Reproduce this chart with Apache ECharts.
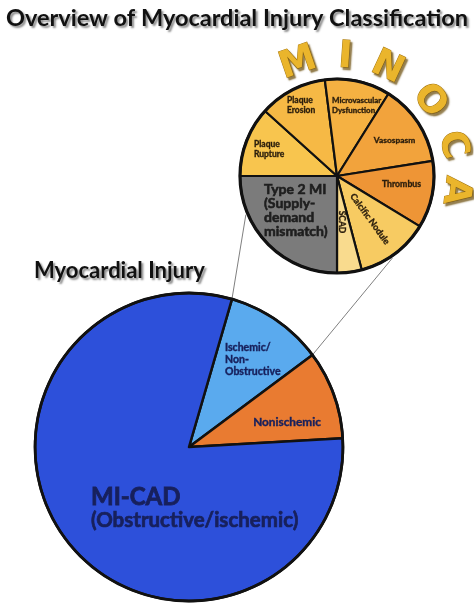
<!DOCTYPE html>
<html><head><meta charset="utf-8">
<script src="https://cdn.jsdelivr.net/npm/echarts@6/dist/echarts.min.js"></script>
<style>html,body{margin:0;padding:0;background:#fff}#c{width:474px;height:608px}</style>
</head><body><div id="c"></div>
<script>
// ---- data ----
const injuryNames = ['Ischemic/\nNon-\nObstructive', 'Nonischemic', 'MI-CAD\n(Obstructive/ischemic)'];
const injuryValues = [10.3, 9.3, 80.4];
const minocaNames = ['Plaque\nRupture', 'Plaque\nErosion', 'Microvascular\nDysfunction', 'Vasospasm', 'Thrombus', 'Calcific Nodule', 'SCAD', 'Type 2 MI\n(Supply-\ndemand\nmismatch)'];
const minocaValues = [11.7, 11.3, 10.9, 13.6, 11.2, 12.2, 4.1, 25.0];
const minocaLetters = ['M', 'I', 'N', 'O', 'C', 'A'];
const titleText = 'Overview of Myocardial Injury Classification';
const subTitleText = 'Myocardial Injury';

// ---- styles / layout ----
const injuryColors = ['#5AAAEE', '#E97B31', '#2D50DA'];
const minocaColors = ['#F8C54E', '#F6B945', '#F5B142', '#F2A33C', '#EE9536', '#F7CB62', '#F9DB8E', '#7B7B7B'];
const bigC = [189, 447], bigR = 154;
const smC = [337, 176], smR = 97;
const injuryLabelPos = [
  {x: 225, y: 360, align: 'left'},
  {x: 287, y: 422, align: 'center'},
  {x: 91, y: 508, align: 'left'}
];
const injuryLabelSize = [10.5, 11.8, 0];
const minocaLabelPos = [
  {x: 254, y: 149, align: 'left', rotate: 0},
  {x: 287, y: 105.5, align: 'left', rotate: 0},
  {x: 332, y: 105, align: 'left', rotate: 0},
  {x: 394.5, y: 140, align: 'center', rotate: 0},
  {x: 401.5, y: 184, align: 'center', rotate: 0},
  {x: 370, y: 219, align: 'center', rotate: -54},
  {x: 342, y: 222, align: 'center', rotate: -90},
  {x: 264, y: 210, align: 'left', rotate: 0}
];
const minocaLabelSize = [8.5, 8.5, 7.9, 8.4, 8.7, 9, 8.5, 0];
const letterAngles = [-19, 4, 25, 51, 75, 97];
const letterR = 119;

const chart = echarts.init(document.getElementById('c'));

function rad(d){return d*Math.PI/180;}
function pt(c, r, a){return [c[0] + r*Math.sin(rad(a)), c[1] - r*Math.cos(rad(a))];}

const bigStartCW = 16.2;
const totalBig = injuryValues.reduce((a,b)=>a+b,0);
const bA1 = bigStartCW;
const bA2 = bigStartCW + injuryValues[0]/totalBig*360;
const p1 = pt(bigC, bigR, bA1);
const p2 = pt(bigC, bigR, bA2);
const q1 = pt(smC, smR+2, 247);
const q2 = pt(smC, smR+2, 146);

const graphics = [
  {type:'line', z: 0, shape:{x1:p1[0], y1:p1[1], x2:q1[0], y2:q1[1]}, style:{stroke:'#808080', lineWidth:1}},
  {type:'line', z: 0, shape:{x1:p2[0], y1:p2[1], x2:q2[0], y2:q2[1]}, style:{stroke:'#808080', lineWidth:1}},
  {type:'circle', z: 5, silent: true, shape:{cx: smC[0], cy: smC[1], r: smR}, style:{fill: null, stroke:'#111', lineWidth: 3.2}},
  {type:'circle', z: 5, silent: true, shape:{cx: bigC[0], cy: bigC[1], r: bigR}, style:{fill: null, stroke:'#111', lineWidth: 2.8}}
];
minocaLetters.forEach((L, i) => {
  const p = pt(smC, letterR, letterAngles[i]);
  graphics.push({
    type: 'text', x: p[0], y: p[1], rotation: -rad(letterAngles[i]), z: 10,
    style: {text: L, fill: '#EAB52C', font: 'bold 37px "DejaVu Sans"', align: 'center', verticalAlign: 'middle',
      stroke: '#A8780E', lineWidth: 1,
      textShadowColor: 'rgba(110,80,15,0.75)', textShadowOffsetX: 2, textShadowOffsetY: 2.5, textShadowBlur: 1.5}
  });
});

const option = {
  backgroundColor: '#ffffff',
  animation: false,
  title: [
    {text: titleText, left: 'center', top: 1,
      textStyle: {fontFamily: 'Lato', fontWeight: 'bold', fontSize: 23.5, color: '#111',
        textShadowColor: 'rgba(0,0,0,0.45)', textShadowOffsetX: 2, textShadowOffsetY: 2, textShadowBlur: 2}},
    {text: subTitleText, left: 29, top: 255,
      textStyle: {fontFamily: 'Lato', fontWeight: 'bold', fontSize: 22, color: '#111',
        textShadowColor: 'rgba(0,0,0,0.45)', textShadowOffsetX: 2, textShadowOffsetY: 2, textShadowBlur: 2}}
  ],
  graphic: graphics,
  series: [
    {
      type: 'pie', center: bigC, radius: bigR, startAngle: 90 - bigStartCW, clockwise: true,
      label: {show: true, position: 'inside', fontFamily: 'Lato', fontWeight: 'bold', color: '#17205C',
        fontSize: 10.5, lineHeight: 12, textBorderColor: '#17205C', textBorderWidth: 0.4,
        formatter: p => p.dataIndex === 2 ? '{a|MI-CAD}\n{b|(Obstructive/ischemic)}' : p.name,
        rich: {a: {fontSize: 24, fontWeight: 'bold', fontFamily: 'Lato', color: '#17205C', lineHeight: 24, textBorderColor: '#17205C', textBorderWidth: 0.8},
               b: {fontSize: 20.5, fontWeight: 'bold', fontFamily: 'Lato', color: '#17205C', lineHeight: 22, textBorderColor: '#17205C', textBorderWidth: 0.7}}},
      labelLayout: p => Object.assign({verticalAlign: 'middle'}, injuryLabelPos[p.dataIndex]),
      labelLine: {show: false},
      itemStyle: {borderColor: '#111', borderWidth: 2.5},
      emphasis: {disabled: true},
      data: injuryNames.map((n, i) => ({name: n, value: injuryValues[i], itemStyle: {color: injuryColors[i]},
        label: injuryLabelSize[i] ? {fontSize: injuryLabelSize[i]} : {}}))
    },
    {
      type: 'pie', center: smC, radius: smR, startAngle: 180, clockwise: true,
      label: {show: true, position: 'inside', fontFamily: 'Lato', fontWeight: 'bold', color: '#2A1D0C',
        fontSize: 8.2, lineHeight: 10, textBorderColor: '#2A1D0C', textBorderWidth: 0.35,
        formatter: p => p.dataIndex === 7 ? '{t|' + p.name.split('\n').join('}\n{t|') + '}' : p.name,
        rich: {t: {fontSize: 14, fontWeight: 'bold', fontFamily: 'Lato', color: '#1E1E1E', lineHeight: 14, textBorderColor: '#1E1E1E', textBorderWidth: 0.6}}},
      labelLayout: p => Object.assign({verticalAlign: 'middle'}, minocaLabelPos[p.dataIndex]),
      labelLine: {show: false},
      itemStyle: {borderColor: '#111', borderWidth: 2.2},
      emphasis: {disabled: true},
      data: minocaNames.map((n, i) => ({name: n, value: minocaValues[i], itemStyle: {color: minocaColors[i]},
        label: minocaLabelSize[i] ? {fontSize: minocaLabelSize[i]} : {}}))
    }
  ]
};
chart.setOption(option);
</script></body></html>
